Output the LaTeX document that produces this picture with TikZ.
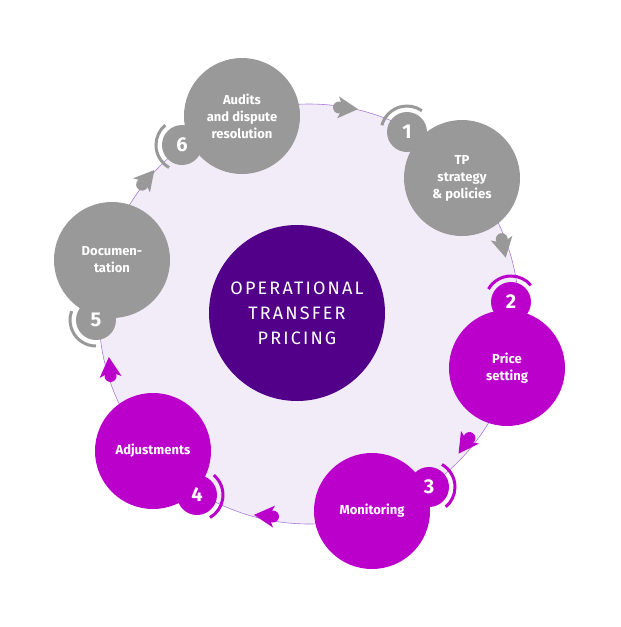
\documentclass[tikz,border=0pt]{standalone}
\usepackage{fontspec}
\usetikzlibrary{calc}
\setmainfont{Fira Sans}
\definecolor{gr}{HTML}{999999}
\definecolor{mg}{HTML}{BB00CC}
\definecolor{dp}{HTML}{52008A}
\definecolor{lav}{HTML}{F2ECF8}
\definecolor{rl}{HTML}{A77BD6}
\begin{document}
\begin{tikzpicture}[x=1pt,y=-1pt,
  stepc/.style={circle,minimum size=116pt,inner sep=0pt,text=white,font=\fontsize{13}{17}\selectfont\bfseries,align=center},
  numc/.style={circle,minimum size=40pt,inner sep=0pt,text=white,font=\fontsize{20}{20}\selectfont\bfseries},
  acc/.style={line width=3pt}]
\useasboundingbox (0,0) rectangle (621,627);
\node[circle,minimum size=420pt,fill=lav,draw=rl,line width=0.6pt] (ring) at (309,314) {};
\node[circle,minimum size=176pt,fill=dp,text=white,align=center,font=\fontsize{18}{25}\selectfont] (core) at (297,313) {\addfontfeature{LetterSpace=12}OPERATIONAL\\\addfontfeature{LetterSpace=12}TRANSFER\\\addfontfeature{LetterSpace=12}PRICING};
\def\arrow#1#2#3#4{\begin{scope}[shift={(#1,#2)},rotate=-#3]
 \fill[#4] (-6,0) circle (6); \fill[#4] (-7,-11) -- (13,0) -- (-7,11) -- (-2,0) -- cycle;\end{scope}}
\arrow{345}{108}{5}{gr}
\arrow{503}{245}{78}{gr}
\arrow{466}{443}{125}{mg}
\arrow{267}{516}{185}{mg}
\arrow{110}{370}{-95}{mg}
\arrow{146}{180}{-50}{gr}
\foreach \n/\cx/\cy/\nx/\ny/\c/\a/\t in {
 1/462/178/407/132/gr/110/{TP\\strategy\\\& policies},
 2/507/368/511/302/mg/95/{Price\\setting},
 3/372/511/429/487/mg/5/{Monitoring},
 4/153/451/197/495/mg/-5/{Adjustments},
 5/112/260/96/320/gr/215/{Documen-\\tation},
 6/242/116/182/145/gr/185/{Audits\\and dispute\\resolution}}{
 \node[stepc,fill=\c] (s\n) at (\cx,\cy) {\t};
 \node[numc,fill=\c] (n\n) at (\nx,\ny) {\n};
 \draw[acc,draw=\c] ($(n\n)+({26*cos(\a+55)},{-26*sin(\a+55)})$) arc[start angle={-(\a+55)},end angle={-(\a-55)},radius=26];
}
\end{tikzpicture}
\end{document}
